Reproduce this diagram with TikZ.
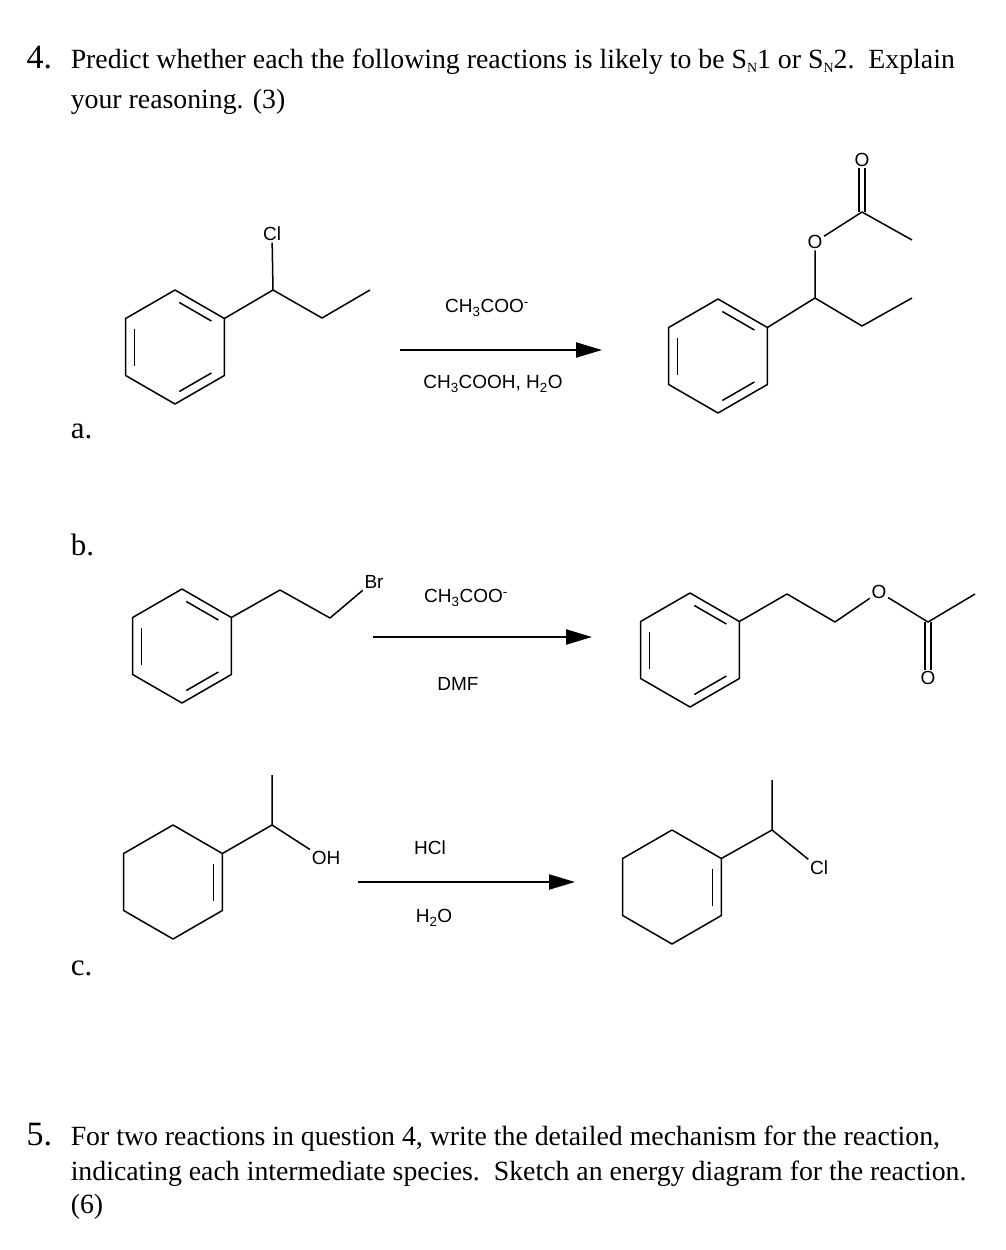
\documentclass[tikz,border=0pt]{standalone}
\usepackage{fontspec}
\setmainfont{Liberation Serif}
\newfontfamily\chemf{Liberation Sans}
\usetikzlibrary{calc,arrows.meta}
\newcommand\hexring[3]{\coordinate (#1) at (#2,#3);
\draw ($(#1)+(-90:57)$) -- ($(#1)+(-30:57)$) -- ($(#1)+(30:57)$) -- ($(#1)+(90:57)$) -- ($(#1)+(150:57)$) -- ($(#1)+(210:57)$) -- cycle;}
\newcommand\innerb[3]{\draw[shorten <=5pt,shorten >=5pt] ($(#1)+(#2:47)$) -- ($(#1)+(#3:47)$);}
\newcommand\vx[2]{($(#1)+(#2:57)$)}
\newcommand\sub[1]{\raisebox{-0.35ex}{\fontsize{14}{14}\selectfont #1}}
\begin{document}
\begin{tikzpicture}[x=1pt,y=-1pt,line width=1.5pt,line join=round,
 txt/.style={anchor=base west,inner sep=0,font=\fontsize{27.8}{30}\selectfont},
 lab/.style={inner sep=1pt,fill=white,font=\chemf\fontsize{19}{22}\selectfont},
 rxn/.style={line width=2.2pt,-{Triangle[length=26pt,width=15pt]}}]
\useasboundingbox (0,0) rectangle (1006,1250);
% titles
\node[txt,font=\fontsize{34}{36}\selectfont] (n4) at (26,68) {4.};
\node[txt] (t1) at (70,68) {Predict whether each the following reactions is likely to be S\sub{N}1 or S\sub{N}2.\ \ Explain};
\node[txt] (t2) at (70,108) {your reasoning. (3)};
\node[txt,font=\fontsize{31}{32}\selectfont] (la) at (70,438) {a.};
\node[txt,font=\fontsize{31}{32}\selectfont] (lb) at (70,555) {b.};
\node[txt,font=\fontsize{31}{32}\selectfont] (lc) at (70,975) {c.};
\node[txt,font=\fontsize{34}{36}\selectfont] (n5) at (26,1145) {5.};
\node[txt] (q1) at (70,1145) {For two reactions in question 4, write the detailed mechanism for the reaction,};
\node[txt] (q2) at (70,1180) {indicating each intermediate species.\ \ Sketch an energy diagram for the reaction.};
\node[txt] (q3) at (70,1213) {(6)};
% ===== a reactant
\hexring{A}{175}{347}
\innerb{A}{-90}{-30}\innerb{A}{30}{90}\innerb{A}{150}{210}
\coordinate (a1) at (273,290); \coordinate (a2) at (322,318); \coordinate (a3) at (370,290);
\node[lab] (aCl) at (272,234) {Cl};
\draw \vx{A}{-30} -- (a1) -- (a2) -- (a3);
\draw (a1) -- (aCl);
% a arrow
\node[lab] (ar1) at (487,308) {CH\textsubscript{3}COO\textsuperscript{-}};
\node[lab] (ar2) at (493,384) {CH\textsubscript{3}COOH, H\textsubscript{2}O};
\coordinate (aS) at (400,350); \coordinate (aE) at (602,350);
\draw[rxn] (aS) -- (aE);
% a product
\hexring{P}{718}{356}
\innerb{P}{-90}{-30}\innerb{P}{30}{90}\innerb{P}{150}{210}
\coordinate (p1) at (815,298); \coordinate (p2) at (862,326); \coordinate (p3) at (912,298);
\node[lab] (pO) at (815,242) {O};
\coordinate (pC) at (862,212); \coordinate (pM) at (912,240);
\node[lab] (pO2) at (862,160) {O};
\draw \vx{P}{-30} -- (p1) -- (p2) -- (p3);
\draw (p1) -- (pO) -- (pC) -- (pM);
\draw ([xshift=-3pt]pC) -- ([xshift=-3pt]pO2.south);
\draw ([xshift=3pt]pC) -- ([xshift=3pt]pO2.south);
% ===== b reactant
\hexring{B}{182}{646}
\innerb{B}{-90}{-30}\innerb{B}{30}{90}\innerb{B}{150}{210}
\coordinate (b1) at (280,590); \coordinate (b2) at (330,618);
\node[lab,fill=none] (bBr) at (374,582) {Br};
\draw \vx{B}{-30} -- (b1) -- (b2) -- (bBr.south west);
\node[lab] (br1) at (466,598) {CH\textsubscript{3}COO\textsuperscript{-}};
\node[lab] (br2) at (458,684) {DMF};
\coordinate (bS) at (373,637); \coordinate (bE) at (592,637);
\draw[rxn] (bS) -- (bE);
% b product
\hexring{Q}{690}{650}
\innerb{Q}{-90}{-30}\innerb{Q}{30}{90}\innerb{Q}{150}{210}
\coordinate (q1c) at (787,594); \coordinate (q2c) at (835,622);
\node[lab] (qO) at (879,592) {O};
\coordinate (qC) at (928,622); \coordinate (qM) at (975,594);
\node[lab] (qO2) at (928,678) {O};
\draw \vx{Q}{-30} -- (q1c) -- (q2c) -- (qO) -- (qC) -- (qM);
\draw ([xshift=-3pt]qC) -- ([xshift=-3pt]qO2.north);
\draw ([xshift=3pt]qC) -- ([xshift=3pt]qO2.north);
% ===== c reactant
\hexring{C}{173}{882}
\innerb{C}{-30}{30}
\coordinate (c1) at (272,825); \coordinate (c2) at (272,775);
\node[lab] (cOH) at (326,858) {OH};
\draw \vx{C}{-30} -- (c1) -- (c2);
\draw (c1) -- (cOH.north west);
\node[lab] (cr1) at (430,848) {HCl};
\node[lab] (cr2) at (434,918) {H\textsubscript{2}O};
\coordinate (cS) at (358,882); \coordinate (cE) at (575,882);
\draw[rxn] (cS) -- (cE);
% c product
\hexring{D}{672}{887}
\innerb{D}{-30}{30}
\coordinate (d1) at (772,830); \coordinate (d2) at (772,780);
\node[lab] (dCl) at (819,868) {Cl};
\draw \vx{D}{-30} -- (d1) -- (d2);
\draw (d1) -- (dCl.north west);
\end{tikzpicture}
\end{document}
